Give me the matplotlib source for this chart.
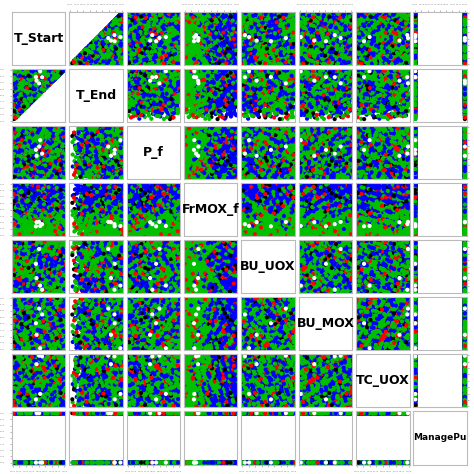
import numpy as np
import matplotlib.pyplot as plt

names = ['T_Start', 'T_End', 'P_f', 'FrMOX_f', 'BU_UOX', 'BU_MOX', 'TC_UOX', 'ManagePu']
class_colors = ['#00c000', '#0000ff', '#ff0000', '#000000', '#ffffff']
n_pts = 2500


# quasi-uniform design of the sampled inputs (digit-scrambled Halton sequence)
def halton(n, base, mult):
    seq = np.zeros(n)
    for i in range(n):
        f, r, k = 1.0, 0.0, i + 1
        while k > 0:
            f /= base
            r += f * ((mult * (k % base)) % base)
            k //= base
        seq[i] = r
    return seq


primes = [2, 3, 5, 7, 11, 13, 17, 19, 23, 29]
mults = [1, 2, 3, 3, 7, 5, 11, 7, 13, 17]
u = np.array([halton(n_pts, p, m) for p, m in zip(primes, mults)])
t_start = u[0]
t_end = t_start + (1 - t_start) * u[1]
p_f, frmox, bu_uox, bu_mox, tc_uox = u[2], u[3], u[4], u[5], u[6]
manage = (u[7] > 0.5).astype(float)
data = [t_start, t_end, p_f, frmox, bu_uox, bu_mox, tc_uox, manage]

# outcome class per run
mix = u[8]
cls = np.zeros(n_pts, dtype=int)
cls[mix < 0.8 * frmox ** 1.3] = 1
cls[(u[9] < 0.16 + 0.1 * (1 - t_end)) & (mix > 0.5)] = 2
cls[(u[9] > 0.93 - 0.12 * (1 - t_end)) & (frmox > 0.45) & (mix > 0.2)] = 3
white = (np.abs(t_start - 0.5) < 0.08) & (np.abs(frmox - 0.22) < 0.06) & (np.abs(p_f - 0.5) < 0.25) & (mix > 0.82)
cls[white] = 4
order = np.argsort(np.where(cls == 4, 9, 0), kind='stable')
colors = np.array(class_colors)[cls][order]

fig, axes = plt.subplots(8, 8, figsize=(4.74, 4.74), dpi=100)
fig.subplots_adjust(left=0.025, right=0.985, bottom=0.02, top=0.975, wspace=0.07, hspace=0.07)

for i in range(8):
    for j in range(8):
        ax = axes[i, j]
        for s in ax.spines.values():
            s.set_color('#bbbbbb')
            s.set_linewidth(0.8)
        ax.tick_params(length=1.5, width=0.4, labelsize=1.5, colors='#888888')
        ax.set_xticks(np.linspace(0, 1, 9))
        ax.set_yticks(np.linspace(0, 1, 9))
        ax.tick_params(labelbottom=False, labelleft=False, bottom=False, left=False)
        if i == 0 and j % 2 == 1:
            ax.tick_params(top=True, labeltop=True)
        if j == 0 and i % 2 == 1:
            ax.tick_params(left=True, labelleft=True)
        if i == 7 and j % 2 == 0:
            ax.tick_params(bottom=True, labelbottom=True)
        if j == 7 and i % 2 == 0:
            ax.tick_params(right=True)
        if i == j:
            ax.text(0.5, 0.5, names[i], ha='center', va='center', fontsize=9 if i < 7 else 6.5,
                    fontweight='bold', transform=ax.transAxes)
            ax.set_xlim(0, 1)
            ax.set_ylim(0, 1)
            continue
        x = data[j][order]
        y = data[i][order]
        ax.scatter(x, y, s=9, c=colors, linewidths=0)
        pad = 0.02
        ax.set_xlim(-pad, 1 + pad)
        ax.set_ylim(-pad, 1 + pad)
        if i == 7:
            ax.set_ylim(-0.04, 1.04)
        if j == 7:
            ax.set_xlim(-0.04, 1.04)

fig.savefig('out.png', dpi=100)
